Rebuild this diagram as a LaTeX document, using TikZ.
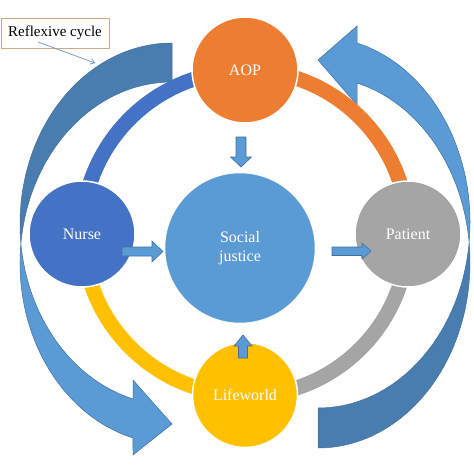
\documentclass[tikz,border=0pt]{standalone}
\usepackage{fontspec}
\setmainfont{Liberation Serif}
\usetikzlibrary{arrows.meta}
\definecolor{cOrange}{HTML}{ED7D31}
\definecolor{cBlue}{HTML}{4472C4}
\definecolor{cGrey}{HTML}{A5A5A5}
\definecolor{cGold}{HTML}{FFC000}
\definecolor{cLight}{HTML}{5B9BD5}
\definecolor{cDark}{RGB}{73,125,175}
\definecolor{cEdge}{HTML}{41719C}
\definecolor{cBox}{RGB}{204,172,132}
\definecolor{cCall}{RGB}{110,145,185}
\begin{document}
\begin{tikzpicture}[x=1pt,y=1pt,
  hub/.style={circle, draw=white, line width=1.5pt, inner sep=0pt, text=white,
    font=\fontsize{16}{19.5}\selectfont, align=center},
  ringarc/.style={line width=15pt},
  blockarr/.style={fill=cLight, draw=cEdge, line width=0.6pt, line join=miter},
  backpart/.style={fill=cDark, draw=cEdge, line width=0.5pt},
  frontpart/.style={fill=cLight, draw=cEdge, line width=0.5pt},
  calloutbox/.style={draw=cBox, line width=0.8pt, fill=white, minimum width=108pt,
    minimum height=30pt, inner sep=0pt, font=\fontsize{15}{18}\selectfont},
  calloutline/.style={draw=cCall, line width=0.7pt, -{Straight Barb[length=4pt,width=6pt]}}
]
\fill[white] (0,0) rectangle (474,-474);
\useasboundingbox (0,0) rectangle (474,-474);

% big curved arrows (reflexive cycle)
\path[backpart] (172,-43) arc[start angle=90, end angle=186.19, x radius=152pt, y radius=181pt]
  arc[start angle=173.81, end angle=90, x radius=152pt, y radius=181pt] -- cycle;
\path[frontpart] (20.89,-243.5) arc[start angle=173.81, end angle=255.13, x radius=152pt, y radius=181pt]
  -- (133,-455) -- (172,-424) -- (133,-380) -- (133,-398.9)
  arc[start angle=255.13, end angle=186.19, x radius=152pt, y radius=181pt] -- cycle;
\begin{scope}[rotate around={180:(245,-245)}]
\path[backpart] (172,-42) arc[start angle=90, end angle=186.19, x radius=152pt, y radius=185.6pt]
  arc[start angle=173.81, end angle=90, x radius=152pt, y radius=185.6pt] -- cycle;
\path[frontpart] (20.89,-247.6) arc[start angle=173.81, end angle=255.13, x radius=152pt, y radius=185.6pt]
  -- (133,-464) -- (172,-430) -- (133,-385) -- (133,-407)
  arc[start angle=255.13, end angle=186.19, x radius=152pt, y radius=185.6pt] -- cycle;
\end{scope}

% positions
\coordinate (pA) at (245,-70);
\coordinate (pN) at (82,-234);
\coordinate (pP) at (408,-234);
\coordinate (pL) at (245,-395);
\coordinate (pS) at (240,-248);

% ring
\draw[ringarc, cOrange] (pA) arc[start angle=90, end angle=0, radius=163pt];
\draw[ringarc, cGrey] (pP) arc[start angle=0, end angle=-90, radius=162pt];
\draw[ringarc, cGold] (pL) arc[start angle=270, end angle=180, radius=162pt];
\draw[ringarc, cBlue] (pN) arc[start angle=180, end angle=90, radius=163pt];

% circles
\node[hub, fill=cOrange, minimum size=106pt] (aop) at (pA) {AOP};
\node[hub, fill=cBlue, minimum size=106pt] (nurse) at (pN) {Nurse};
\node[hub, fill=cGrey, minimum size=106pt] (patient) at (pP) {Patient};
\node[hub, fill=cGold, minimum size=105pt] (life) at (pL) {Lifeworld};
\node[hub, fill=cLight, minimum size=151pt] (sj) at (pS) {Social\\justice};

% block arrows
\path[blockarr] (236,-137) -- (246,-137) -- (246,-157) -- (251.5,-157) -- (241,-167) -- (230.5,-157) -- (236,-157) -- cycle;
\path[blockarr] (238.5,-358) -- (247.5,-358) -- (247.5,-346) -- (252,-346) -- (243,-335) -- (234,-346) -- (238.5,-346) -- cycle;
\path[blockarr] (122,-247) -- (152,-247) -- (152,-241) -- (163,-251.5) -- (152,-262) -- (152,-256) -- (122,-256) -- cycle;
\path[blockarr] (332,-247) -- (362,-247) -- (362,-243) -- (371,-251) -- (362,-259) -- (362,-255.5) -- (332,-255.5) -- cycle;

% callout
\node[calloutbox] (callout) at (55,-33) {Reflexive cycle};
\coordinate (cTail) at (38,-42);
\coordinate (cHead) at (95,-63);
\draw[calloutline] (cTail) -- (cHead);
\end{tikzpicture}
\end{document}
